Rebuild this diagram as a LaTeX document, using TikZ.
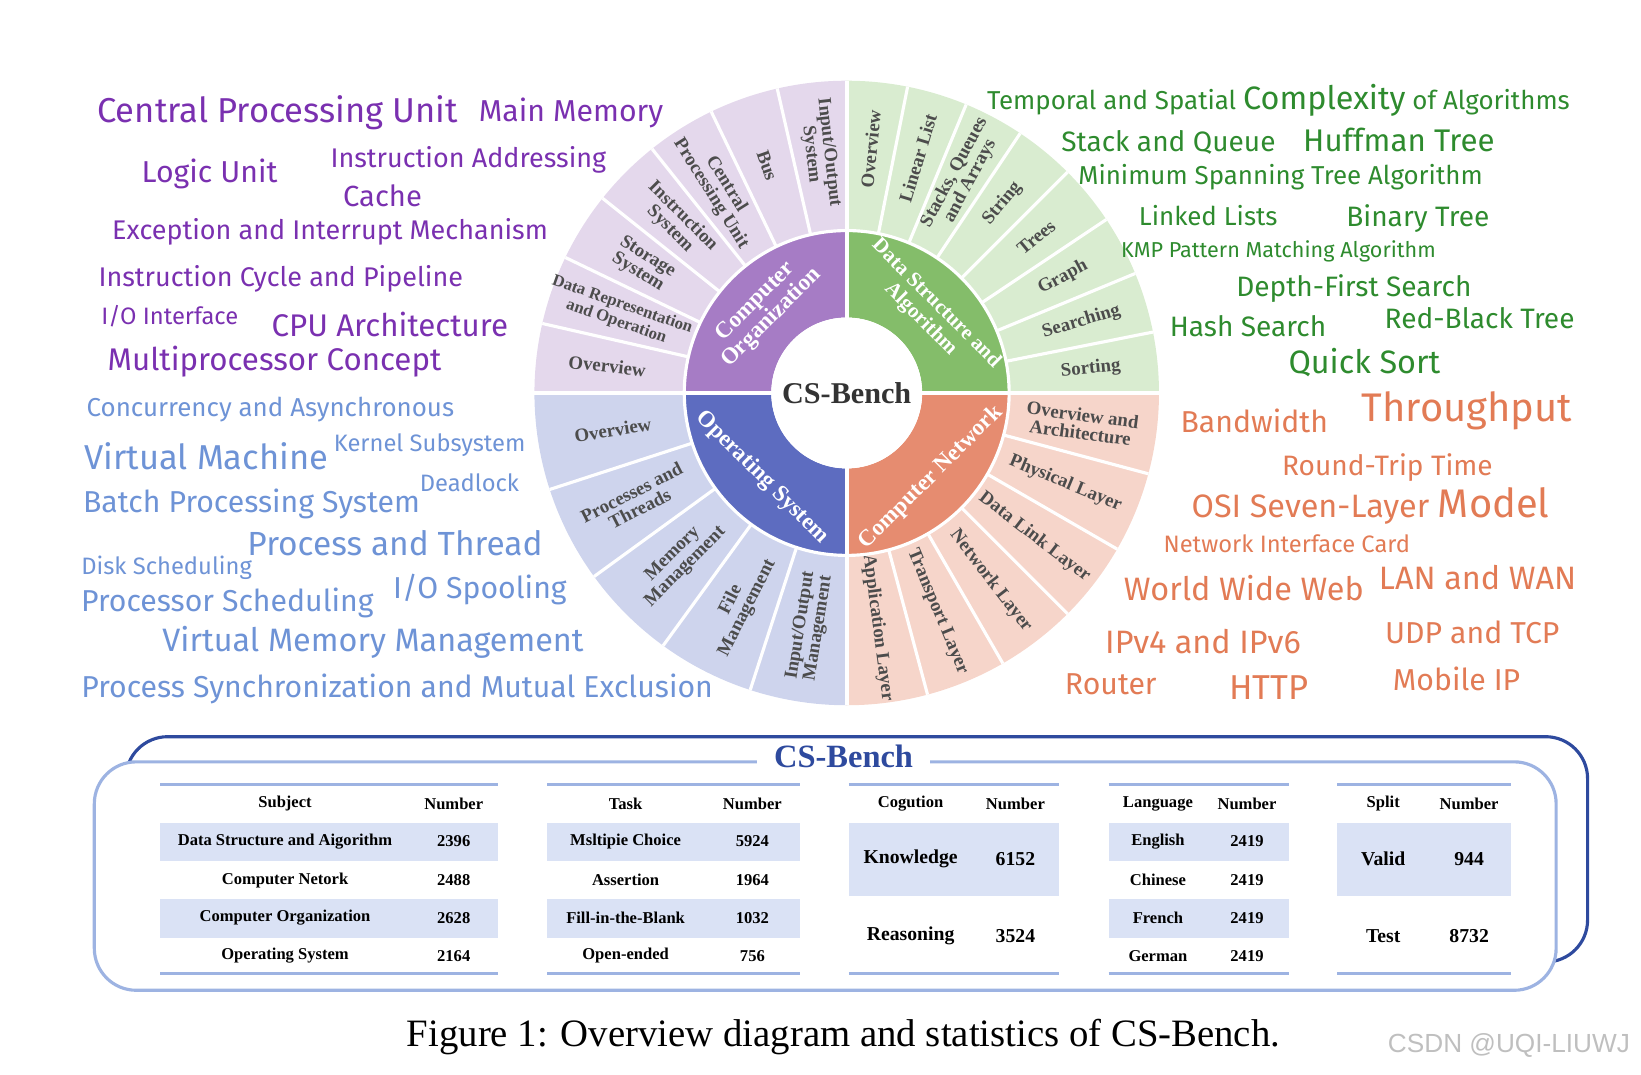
\documentclass[tikz,border=0pt]{standalone}
\usepackage{fontspec}
\setmainfont{Liberation Serif}
\newfontfamily\wcf{Fira Sans}
\newfontfamily\wmf{Liberation Sans}
\definecolor{pur}{HTML}{7A30B0}
\definecolor{grn}{HTML}{2E8B2E}
\definecolor{org}{HTML}{E27B55}
\definecolor{blu}{HTML}{6E93D6}
\definecolor{pm}{HTML}{A67CC5}\definecolor{po}{HTML}{E4D8EC}
\definecolor{gm}{HTML}{84BD6A}\definecolor{go}{HTML}{D9ECD0}
\definecolor{om}{HTML}{E68C70}\definecolor{oo}{HTML}{F6D5CA}
\definecolor{bm}{HTML}{5D6CC0}\definecolor{bo}{HTML}{CED4ED}
\definecolor{tl}{HTML}{DAE2F5}\definecolor{tline}{HTML}{9DB3E2}
\definecolor{dk}{HTML}{2E4A9E}
\newcommand\wsz[1]{\wcf\fontsize{\fpeval{#1*1.03}pt}{\fpeval{#1*1.03}pt}\selectfont}
\newcommand\smlab[1]{{\fontsize{8}{8}\selectfont #1}}
\begin{document}
\begin{tikzpicture}[x=0.5pt,y=0.5pt,
  wc/.style={text=#1,inner sep=0pt},
  seg/.style={font=\bfseries\fontsize{9}{8.6}\selectfont,text=black!70,align=center,inner sep=0pt},
  mid/.style={font=\bfseries\fontsize{11}{11}\selectfont,text=white,align=center,inner sep=0pt},
  tt/.style={font=\bfseries\fontsize{7.9}{9}\selectfont,inner sep=0pt},
  tb/.style={font=\bfseries\fontsize{9.4}{11}\selectfont,inner sep=0pt},
  tln/.style={tline,line width=1.5pt},
  sh/.style={fill=tl}]
\useasboundingbox (0,0) rectangle (1566,-1025);
% ---------- wheel ----------
\begin{scope}[shift={(808,-375)}]
\def\ra{36pt}\def\rb{77.5pt}\def\rc{149pt}
\foreach \lab [count=\i from 0] in {{Input/Output\\System},Bus,{Central\\Processing Unit},{Instruction\\System},{Storage\\System},{\smlab{Data Representation}\\\smlab{and Operation}},Overview}{
  \pgfmathsetmacro\aa{90+\i*90/7}\pgfmathsetmacro\ab{90+(\i+1)*90/7}\pgfmathsetmacro\am{(\aa+\ab)/2}
  \fill[po] (\aa:\rb) arc[start angle=\aa,end angle=\ab,radius=\rb] -- (\ab:\rc) arc[start angle=\ab,end angle=\aa,radius=\rc] -- cycle;
  \node[seg,rotate=\am+180] (co\i) at (\am:115pt) {\lab};}
\foreach \lab [count=\i from 0] in {Overview,Linear List,{Stacks, Queues\\and Arrays},String,Trees,Graph,Searching,Sorting}{
  \pgfmathsetmacro\aa{90-\i*90/8}\pgfmathsetmacro\ab{90-(\i+1)*90/8}\pgfmathsetmacro\am{(\aa+\ab)/2}
  \fill[go] (\aa:\rb) arc[start angle=\aa,end angle=\ab,radius=\rb] -- (\ab:\rc) arc[start angle=\ab,end angle=\aa,radius=\rc] -- cycle;
  \node[seg,rotate=\am] (ds\i) at (\am:117pt) {\lab};}
\foreach \lab [count=\i from 0] in {{Overview and\\Architecture},Physical Layer,Data Link Layer,Network Layer,Transport Layer,Application Layer}{
  \pgfmathsetmacro\aa{-\i*90/6}\pgfmathsetmacro\ab{-(\i+1)*90/6}\pgfmathsetmacro\am{(\aa+\ab)/2}
  \fill[oo] (\aa:\rb) arc[start angle=\aa,end angle=\ab,radius=\rb] -- (\ab:\rc) arc[start angle=\ab,end angle=\aa,radius=\rc] -- cycle;
  \node[seg,rotate=\am] (cn\i) at (\am:113pt) {\lab};}
\foreach \lab [count=\i from 0] in {Overview,{Processes and\\Threads},{Memory\\Management},{File\\Management},{Input/Output\\Management}}{
  \pgfmathsetmacro\aa{180+\i*90/5}\pgfmathsetmacro\ab{180+(\i+1)*90/5}\pgfmathsetmacro\am{(\aa+\ab)/2}
  \fill[bo] (\aa:\rb) arc[start angle=\aa,end angle=\ab,radius=\rb] -- (\ab:\rc) arc[start angle=\ab,end angle=\aa,radius=\rc] -- cycle;
  \node[seg,rotate=\am+180] (os\i) at (\am:113pt) {\lab};}
\foreach \n/\s in {7/90,8/0,6/-90,5/180}{
  \foreach \k in {1,...,\n}{\pgfmathsetmacro\ang{\s+\k*90/\n}\draw[white,line width=1.5pt] (\ang:\rb) -- (\ang:\rc);}}
\fill[pm] (90:\ra) arc[start angle=90,end angle=180,radius=\ra] -- (180:\rb) arc[start angle=180,end angle=90,radius=\rb] -- cycle;
\fill[gm] (0:\ra) arc[start angle=0,end angle=90,radius=\ra] -- (90:\rb) arc[start angle=90,end angle=0,radius=\rb] -- cycle;
\fill[om] (-90:\ra) arc[start angle=-90,end angle=0,radius=\ra] -- (0:\rb) arc[start angle=0,end angle=-90,radius=\rb] -- cycle;
\fill[bm] (180:\ra) arc[start angle=180,end angle=270,radius=\ra] -- (270:\rb) arc[start angle=270,end angle=180,radius=\rb] -- cycle;
\draw[white,line width=2pt] (0:0) -- (0:\rc) (0:0) -- (90:\rc) (0:0) -- (180:\rc) (0:0) -- (270:\rc);
\draw[white,line width=1.5pt] (0,0) circle[radius=\rb];
\fill[white] (0,0) circle[radius=\ra];
\node[mid,rotate=45] (mco) at (135:56pt) {Computer\\Organization};
\node[mid,rotate=-45,font=\bfseries\fontsize{10}{10.5}\selectfont] (mds) at (45:55pt) {Data Structure and\\Algorithm};
\node[mid,rotate=45] (mcn) at (-45:57pt) {Computer Network};
\node[mid,rotate=-45] (mos) at (-135:57pt) {Operating System};
\node[font=\bfseries\fontsize{14.4}{14.4}\selectfont,text=black!80] (ctr) at (0,0) {CS-Bench};
\end{scope}
% ---------- word cloud ----------
\node[wc=pur,font=\wsz{16}] (p1) at (265,-108) {Central Processing Unit};
\node[wc=pur,font=\wsz{14}] (p2) at (545,-108) {Main Memory};
\node[wc=pur,font=\wsz{14}] (p3) at (200,-166) {Logic Unit};
\node[wc=pur,font=\wsz{12.5}] (p4) at (447,-153) {Instruction Addressing};
\node[wc=pur,font=\wsz{13.5}] (p5) at (365,-187) {Cache};
\node[wc=pur,font=\wsz{12.5}] (p6) at (315,-221) {Exception and Interrupt Mechanism};
\node[wc=pur,font=\wsz{12.5}] (p7) at (268,-266) {Instruction Cycle and Pipeline};
\node[wc=pur,font=\wsz{11}] (p8) at (162,-302) {I/O Interface};
\node[wc=pur,font=\wsz{14.5}] (p9) at (372,-310) {CPU Architecture};
\node[wc=pur,font=\wsz{14.5}] (p10) at (262,-345) {Multiprocessor Concept};
%
\node[wc=grn,font=\wsz{12}] (g1) at (1220,-96) {Temporal and Spatial {\wsz{15}Complexity} of Algorithms};
\node[wc=grn,font=\wsz{13}] (g2) at (1115,-136) {Stack and Queue};
\node[wc=grn,font=\wsz{14.5}] (g3) at (1335,-134) {Huffman Tree};
\node[wc=grn,font=\wsz{12}] (g4) at (1222,-169) {Minimum Spanning Tree Algorithm};
\node[wc=grn,font=\wsz{12}] (g5) at (1153,-206) {Linked Lists};
\node[wc=grn,font=\wsz{13}] (g6) at (1353,-209) {Binary Tree};
\node[wc=grn,font=\wsz{10}] (g7) at (1220,-240) {KMP Pattern Matching Algorithm};
\node[wc=grn,font=\wsz{13}] (g8) at (1292,-275) {Depth-First Search};
\node[wc=grn,font=\wsz{13}] (g9) at (1191,-311) {Hash Search};
\node[wc=grn,font=\wsz{13}] (g10) at (1412,-304) {Red-Black Tree};
\node[wc=grn,font=\wsz{15}] (g11) at (1302,-346) {Quick Sort};
%
\node[wc=org,font=\wsz{14}] (o1) at (1197,-402) {Bandwidth};
\node[wc=org,font=\wsz{18.5}] (o2) at (1400,-392) {Throughput};
\node[wc=org,font=\wsz{13}] (o3) at (1324,-446) {Round-Trip Time};
\node[wc=org,font=\wsz{15}] (o4) at (1308,-483) {OSI Seven-Layer {\wsz{18.5}Model}};
\node[wc=org,font=\wsz{11}] (o5) at (1228,-519) {Network Interface Card};
\node[wc=org,font=\wsz{15}] (o6) at (1187,-561) {World Wide Web};
\node[wc=org,font=\wsz{15}] (o7) at (1410,-551) {LAN and WAN};
\node[wc=org,font=\wsz{15}] (o8) at (1148,-612) {IPv4 and IPv6};
\node[wc=org,font=\wsz{14}] (o9) at (1405,-603) {UDP and TCP};
\node[wc=org,font=\wsz{14}] (o10) at (1060,-653) {Router};
\node[wc=org,font=\wsz{16}] (o11) at (1211,-656) {HTTP};
\node[wc=org,font=\wsz{14}] (o12) at (1390,-648) {Mobile IP};
%
\node[wc=blu,font=\wsz{12}] (b1) at (258,-391) {Concurrency and Asynchronous};
\node[wc=blu,font=\wsz{16}] (b2) at (197,-435) {Virtual Machine};
\node[wc=blu,font=\wsz{11}] (b3) at (410,-425) {Kernel Subsystem};
\node[wc=blu,font=\wsz{11}] (b4) at (448,-461) {Deadlock};
\node[wc=blu,font=\wsz{14}] (b5) at (240,-481) {Batch Processing System};
\node[wc=blu,font=\wsz{15.5}] (b6) at (377,-518) {Process and Thread};
\node[wc=blu,font=\wsz{11}] (b7) at (159,-542) {Disk Scheduling};
\node[wc=blu,font=\wsz{14}] (b8) at (458,-563) {I/O Spooling};
\node[wc=blu,font=\wsz{14}] (b9) at (217,-575) {Processor Scheduling};
\node[wc=blu,font=\wsz{15}] (b10) at (356,-613) {Virtual Memory Management};
\node[wc=blu,font=\wsz{14}] (b11) at (379,-657) {Process Synchronization and Mutual Exclusion};
% ---------- panel ----------
\draw[dk,line width=1.5pt,rounded corners=20pt] (120,-703) rectangle (1515,-918);
\draw[tline,line width=1.5pt,fill=white,rounded corners=20pt] (90,-727) rectangle (1485,-945);
\node[fill=white,inner xsep=8pt,inner ysep=1pt,text=dk,font=\bfseries\fontsize{15.5}{16}\selectfont] (title) at (805,-722) {CS-Bench};
\fill[sh] (153,-785) rectangle (475,-822); \fill[sh] (153,-858) rectangle (475,-895);
\draw[tln] (153,-749) -- (475,-749); \draw[tln] (153,-929) -- (475,-929);
\foreach \a/\b/\y [count=\i] in {Subject/Number/767,Data Structure and Aigorithm/2396/803,Computer Netork/2488/840,Computer Organization/2628/876,Operating System/2164/912}{
  \node[tt] (ta\i) at (272,-\y) {\a}; \node[tt] (tb\i) at (433,-\y) {\b};}
\fill[sh] (522,-785) rectangle (763,-822); \fill[sh] (522,-858) rectangle (763,-895);
\draw[tln] (522,-749) -- (763,-749); \draw[tln] (522,-929) -- (763,-929);
\foreach \a/\b/\y [count=\i] in {Task/Number/767,Msltipie Choice/5924/803,Assertion/1964/840,Fill-in-the-Blank/1032/876,Open-ended/756/912}{
  \node[tt] (tc\i) at (597,-\y) {\a}; \node[tt] (td\i) at (718,-\y) {\b};}
\fill[sh] (810,-785) rectangle (1011,-855);
\draw[tln] (810,-749) -- (1011,-749); \draw[tln] (810,-929) -- (1011,-929);
\node[tt] (te1) at (869,-767) {Cogution}; \node[tt] (tf1) at (969,-767) {Number};
\node[tb] (te2) at (869,-820) {Knowledge}; \node[tb] (tf2) at (969,-820) {6152};
\node[tb] (te3) at (869,-893) {Reasoning}; \node[tb] (tf3) at (969,-893) {3524};
\fill[sh] (1058,-785) rectangle (1230,-822); \fill[sh] (1058,-858) rectangle (1230,-895);
\draw[tln] (1058,-749) -- (1230,-749); \draw[tln] (1058,-929) -- (1230,-929);
\foreach \a/\b/\y [count=\i] in {Language/Number/767,English/2419/803,Chinese/2419/840,French/2419/876,German/2419/912}{
  \node[tt] (tg\i) at (1105,-\y) {\a}; \node[tt] (th\i) at (1190,-\y) {\b};}
\fill[sh] (1276,-785) rectangle (1442,-855);
\draw[tln] (1276,-749) -- (1442,-749); \draw[tln] (1276,-929) -- (1442,-929);
\node[tt] (ti1) at (1320,-767) {Split}; \node[tt] (tj1) at (1402,-767) {Number};
\node[tb] (ti2) at (1320,-820) {Valid}; \node[tb] (tj2) at (1402,-820) {944};
\node[tb] (ti3) at (1320,-893) {Test}; \node[tb] (tj3) at (1402,-893) {8732};
\node[font=\fontsize{18.5}{18.5}\selectfont] (cap) at (805,-990) {Figure 1: Overview diagram and statistics of CS-Bench.};
\node[font=\wmf\fontsize{12.5}{12.5}\selectfont,text=black!25] (wm) at (1440,-998) {CSDN @UQI-LIUWJ};
\end{tikzpicture}
\end{document}
